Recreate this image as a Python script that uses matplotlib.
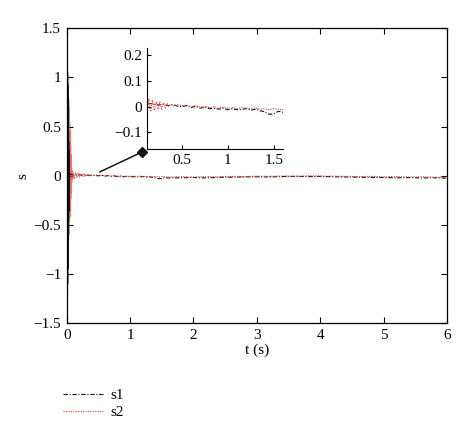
"""
Sliding surfaces s1, s2 over time, with a zoomed inset of the steady part.
"""
import numpy as np
import matplotlib
matplotlib.use("Agg")
import matplotlib.pyplot as plt

plt.rcParams["font.family"] = ["Liberation Serif", "DejaVu Serif"]
plt.rcParams["font.size"] = 11

# s1: chattering burst at start, then small drift around zero
T1 = [0.0000, 0.0015, 0.0030, 0.0045, 0.0060, 0.0075, 0.0090, 0.0105, 0.0120, 0.0135,
      0.0150, 0.0165, 0.0180, 0.0195, 0.0210, 0.0225, 0.0240, 0.0255, 0.0270, 0.0285,
      0.0300, 0.0315, 0.0330, 0.0345, 0.0360, 0.0375, 0.0390, 0.0405, 0.0420, 0.0435,
      0.0450, 0.0465, 0.0480, 0.060, 0.080,
      0.10, 0.15, 0.20, 0.25, 0.30, 0.35, 0.40, 0.45, 0.50, 0.55,
      0.60, 0.65, 0.70, 0.75, 0.80, 0.85, 0.90, 0.95, 1.00, 1.05,
      1.10, 1.15, 1.20, 1.25, 1.30, 1.35, 1.40, 1.45, 1.50, 1.55,
      1.60, 1.80, 2.00, 2.20, 2.40, 2.60, 2.80, 3.00, 3.20, 3.40,
      3.60, 3.80, 4.00, 4.20, 4.40, 4.60, 4.80, 5.00, 5.20, 5.40,
      5.60, 5.80, 6.00]
S1 = [1.50, -1.50, 1.45, -1.45, 1.40, -1.40, 1.30, -1.32, 1.20, -1.22,
      1.05, -1.10, 0.92, -0.95, 0.80, -0.82, 0.68, -0.70, 0.56, -0.58,
      0.45, -0.46, 0.35, -0.36, 0.26, -0.27, 0.18, -0.18, 0.12, -0.10,
      0.06, -0.04, 0.02, 0.015, 0.012,
      0.008, 0.012, 0.010, 0.006, 0.010, 0.004, 0.008, 0.002, 0.000, 0.004,
      -0.004, 0.002, -0.006, -0.002, -0.008, -0.006, -0.010, -0.006, -0.012, -0.008,
      -0.012, -0.010, -0.008, -0.014, -0.010, -0.016, -0.020, -0.030, -0.028, -0.018,
      -0.022, -0.020, -0.018, -0.022, -0.016, -0.014, -0.012, -0.010, -0.012, -0.008,
      -0.006, -0.008, -0.006, -0.010, -0.012, -0.014, -0.016, -0.018, -0.020, -0.018,
      -0.022, -0.020, -0.024]
N_BURST1 = 33   # points of the chattering phase

# s2: chattering burst, noisy settle, then slow drift
T2 = [0.0000, 0.0025, 0.0050, 0.0075, 0.0100, 0.0125, 0.0150, 0.0175, 0.0200, 0.0225,
      0.0250, 0.0275, 0.0300, 0.0325, 0.0350, 0.0375, 0.0400, 0.0425, 0.0450, 0.0475,
      0.0500, 0.0525, 0.0550, 0.0575, 0.0600, 0.0625, 0.0650, 0.0675, 0.0700, 0.0725,
      0.0750, 0.0775, 0.0800, 0.0825, 0.0850,
      0.090, 0.10, 0.12, 0.14, 0.16, 0.18,
      0.20, 0.22, 0.24, 0.26, 0.28, 0.30, 0.32, 0.34, 0.36, 0.38,
      0.40, 0.45, 0.50, 0.55, 0.60, 0.65, 0.70, 0.75, 0.80, 0.85,
      0.90, 0.95, 1.00, 1.05, 1.10, 1.15, 1.20, 1.25, 1.30, 1.35,
      1.40, 1.45, 1.50, 1.55, 1.60, 1.80, 2.00, 2.20, 2.40, 2.60,
      2.80, 3.00, 3.20, 3.40, 3.60, 3.80, 4.00, 4.20, 4.40, 4.60,
      4.80, 5.00, 5.20, 5.40, 5.60, 5.80, 6.00]
S2 = [1.30, -0.95, 1.25, -0.92, 1.18, -0.88, 1.10, -0.84, 1.02, -0.78,
      0.94, -0.72, 0.86, -0.66, 0.78, -0.60, 0.70, -0.54, 0.62, -0.48,
      0.54, -0.42, 0.46, -0.36, 0.38, -0.30, 0.30, -0.24, 0.22, -0.18,
      0.15, -0.12, 0.09, -0.07, 0.05,
      -0.04, 0.03, -0.030, 0.030, -0.020, 0.025,
      -0.015, 0.020, -0.010, 0.020, -0.010, 0.015, -0.005, 0.012, 0.000, 0.010,
      0.002, 0.008, 0.004, 0.006, 0.000, 0.004, -0.002, 0.002, -0.004, 0.000,
      -0.006, -0.002, -0.006, -0.004, -0.008, -0.004, -0.006, -0.008, -0.006, -0.010,
      -0.008, -0.012, -0.008, -0.010, -0.012, -0.010, -0.012, -0.008, -0.010, -0.006,
      -0.008, -0.004, -0.006, -0.002, -0.004, 0.000, -0.002, -0.004, -0.006, -0.008,
      -0.006, -0.010, -0.008, -0.012, -0.010, -0.014, -0.016]
N_BURST2 = 35

XTICKS = [0, 1, 2, 3, 4, 5, 6]
YTICKS = [-1.5, -1, -0.5, 0, 0.5, 1, 1.5]
YTICKLABELS = ["\u22121.5", "\u22121", "\u22120.5", "0", "0.5", "1", "1.5"]
INSET_XTICKS = [0.5, 1, 1.5]
INSET_XTICKLABELS = ["0.5", "1", "1.5"]
INSET_YTICKS = [-0.1, 0, 0.1, 0.2]
INSET_YTICKLABELS = ["\u22120.1", "0", "0.1", "0.2"]

# pointer from the curve to the inset
ARROW_FROM = (0.525, 0.04)
ARROW_TO = (1.19, 0.242)

BLACK = "#151515"
RED = "#e23a30"
DASHDOT = (0, (4, 1.5, 1, 1.5))
DOTTED = (0, (1, 1.2))


def draw_series(ax, lw=0.8):
    # chattering phase drawn solid so the dense band reads as in the original
    ax.plot(T2[:N_BURST2], S2[:N_BURST2], color=RED, lw=0.5, alpha=0.7)
    ax.plot(T1[:N_BURST1], S1[:N_BURST1], color=BLACK, lw=0.7)
    ax.plot(T1[N_BURST1 - 1:], S1[N_BURST1 - 1:], color=BLACK, lw=lw, ls=DASHDOT, label="s1")
    ax.plot(T2[N_BURST2 - 1:], S2[N_BURST2 - 1:], color=RED, lw=lw, ls=DOTTED, label="s2")


fig = plt.figure(figsize=(4.74, 4.38), dpi=100)
ax = fig.add_axes([0.1407, 0.2619, 0.8023, 0.6735])
draw_series(ax)
ax.set_xlim(0, 6)
ax.set_ylim(-1.5, 1.5)
ax.set_xticks(XTICKS)
ax.set_yticks(YTICKS)
ax.set_yticklabels(YTICKLABELS)
ax.tick_params(direction="in", top=True, right=True, length=4, width=0.8, pad=4)
for sp in ax.spines.values():
    sp.set_linewidth(0.9)
ax.set_xlabel("t (s)", labelpad=1)
ax.set_ylabel("s", labelpad=3)

ax.plot([ARROW_FROM[0], ARROW_TO[0]], [ARROW_FROM[1], ARROW_TO[1]],
        color=BLACK, lw=1.1)
ax.plot([ARROW_TO[0]], [ARROW_TO[1]], marker="D", ms=5, color=BLACK)

ins = fig.add_axes([0.310, 0.660, 0.287, 0.231])
draw_series(ins, lw=0.8)
ins.set_xlim(0.12, 1.6)
ins.set_ylim(-0.165, 0.23)
ins.set_xticks(INSET_XTICKS)
ins.set_xticklabels(INSET_XTICKLABELS)
ins.set_yticks(INSET_YTICKS)
ins.set_yticklabels(INSET_YTICKLABELS)
ins.spines["top"].set_visible(False)
ins.spines["right"].set_visible(False)
ins.tick_params(direction="in", length=3, width=0.8)

handles, labels = ax.get_legend_handles_labels()
fig.legend(handles, labels, loc="upper left", bbox_to_anchor=(0.12, 0.127),
           frameon=False, handlelength=2.6, handletextpad=0.5,
           labelspacing=0.2, borderaxespad=0)

fig.savefig("out.png", dpi=100)
